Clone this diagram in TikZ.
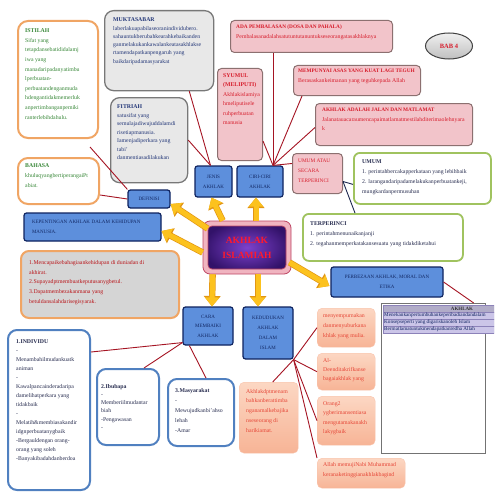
\documentclass[tikz,border=0pt]{standalone}
\usepackage{fontspec}
\setmainfont{Liberation Serif}
\usetikzlibrary{arrows.meta,shapes.geometric,calc}
\definecolor{bfill}{RGB}{93,143,220}
\definecolor{bnavy}{RGB}{14,35,95}
\definecolor{btext}{RGB}{18,40,100}
\definecolor{gold}{RGB}{252,194,30}
\definecolor{goldedge}{RGB}{226,150,20}
\definecolor{lnred}{RGB}{165,20,35}
\definecolor{lnnavy}{RGB}{30,40,80}
\definecolor{pfill}{RGB}{242,196,202}
\definecolor{pborder}{RGB}{140,112,112}
\definecolor{ptext}{RGB}{215,30,45}
\definecolor{gfill}{RGB}{232,232,232}
\definecolor{gborder}{RGB}{120,120,120}
\definecolor{mtext}{RGB}{35,55,120}
\definecolor{oborder}{RGB}{240,165,100}
\definecolor{grtext}{RGB}{55,135,55}
\definecolor{grborder}{RGB}{160,195,95}
\definecolor{dtext}{RGB}{40,45,80}
\definecolor{ibborder}{RGB}{80,128,192}
\definecolor{peachtop}{RGB}{252,215,195}
\definecolor{peachbot}{RGB}{247,180,150}
\definecolor{peachtext}{RGB}{230,70,55}
\definecolor{lav}{RGB}{203,197,232}
\definecolor{lavline}{RGB}{140,130,185}
\definecolor{listred}{RGB}{185,20,25}
\definecolor{cpink}{RGB}{240,180,192}
\definecolor{cpinkd}{RGB}{190,70,100}
\definecolor{cpurin}{RGB}{125,65,205}
\definecolor{cpurout}{RGB}{50,18,105}
\definecolor{ctext}{RGB}{255,25,45}
\newcommand\myfs[2]{\fontsize{#1}{#2}\selectfont}
\begin{document}
\begin{tikzpicture}[x=1pt,y=-1pt,
  bx/.style={anchor=north west, inner sep=0pt},
  txt/.style={anchor=north west, inner sep=0pt, align=left},
  bluebox/.style={draw=bnavy, line width=1.2pt, fill=bfill, rounded corners=2.5pt, text=btext, align=center, inner sep=1pt, font=\myfs{5}{10}},
  greybox/.style={bx, draw=gborder, line width=1.3pt, fill=gfill, rounded corners=9pt},
  pinkbox/.style={bx, draw=pborder, line width=1pt, fill=pfill, rounded corners=4pt},
  orbox/.style={bx, draw=oborder, line width=2pt, fill=white, rounded corners=10pt},
  listbox/.style={bx, draw=oborder, line width=2pt, fill=gfill!92!black, rounded corners=8pt},
  grbox/.style={bx, draw=grborder, line width=1.8pt, fill=white, rounded corners=6pt},
  ibbox/.style={bx, draw=ibborder, line width=2pt, fill=white, rounded corners=9pt},
  peachbox/.style={bx, top color=peachtop, bottom color=peachbot, draw=peachbot!80!white, line width=0.4pt, rounded corners=5pt},
  conn/.style={draw=lnred, line width=0.9pt},
  conn2/.style={draw=lnnavy, line width=0.9pt},
  bigarrow/.style={draw=gold, line width=5pt, -{Triangle[length=9pt,width=14pt]},
     preaction={draw=goldedge, line width=6.4pt, -{Triangle[length=10.4pt,width=16.4pt]}}},
  centerbox/.style={draw=cpinkd, line width=0.8pt, fill=cpink, rounded corners=7pt,
     minimum width=88, minimum height=53, align=center, text=ctext,
     font=\bfseries\myfs{9.5}{15},
     path picture={
       \shade[rounded corners=4pt, inner color=cpurin, outer color=cpurout]
         ([shift={(5pt,-5pt)}]path picture bounding box.north west) rectangle
         ([shift={(-5pt,5pt)}]path picture bounding box.south east);
       \draw[cpinkd, line width=0.7pt, rounded corners=4pt]
         ([shift={(5pt,-5pt)}]path picture bounding box.north west) rectangle
         ([shift={(-5pt,5pt)}]path picture bounding box.south east);}}
]
\useasboundingbox (0,0) rectangle (495,495);
\fill[white] (0,0) rectangle (495,495);

% ---------- top-left boxes
\node[orbox, minimum width=80, minimum height=117] (ist) at (17,20) {};
\node[txt, text=grtext, font=\myfs{5.8}{9.6}] (ist-t) at (25,28.7) {{\bfseries ISTILAH}\\Sifat yang\\tetapdansebatididalamj\\iwa yang\\manadaripadanyatimbu\\lperbuatan-\\perbuatandenganmuda\\hdengantidakmemerluk\\anpertimbanganpemiki\\ranterlebihdahulu.};

\node[orbox, minimum width=81, minimum height=46] (bah) at (17,157) {};
\node[txt, text=grtext, font=\myfs{5.8}{10}] (bah-t) at (25,163.7) {{\bfseries BAHASA}\\khuluqyangbertiperangaiPt\\abiat.};

\node[greybox, minimum width=109, minimum height=80] (muk) at (104,10) {};
\node[txt, text=mtext, font=\myfs{5.8}{8.3}] (muk-t) at (113,17.7) {{\bfseries MUKTASABAR}\\laberlakuapabilaseoranindividubero.\\sahauntukberubahkearahkebaikanden\\ganmelakukankawalankeatasakhlakse\\rtamendapatkanpengaruh yang\\baikdaripadamasyarakat};

\node[greybox, minimum width=77, minimum height=85] (fit) at (110,97) {};
\node[txt, text=mtext, font=\myfs{5.8}{8.5}] (fit-t) at (117,104.7) {{\bfseries FITRIAH}\\satusifat yang\\semulajadiwujuddalamdi\\risetiapmanusia.\\Iamenjadiperkara yang\\tabi'\\danmentiasadilakukan};

% ---------- pink boxes
\node[pinkbox, minimum width=162, minimum height=32] (ada) at (230,20) {};
\node[txt, text=ptext, font=\myfs{5.8}{10}] (ada-t) at (236,25) {{\bfseries\myfs{5.3}{10}ADA PEMBALASAN (DOSA DAN PAHALA)}\\Pembalasanadalahsatutuntutanuntukseseorangatasakhlaknya};

\node[pinkbox, minimum width=45, minimum height=92] (syu) at (217,68) {};
\node[txt, text=ptext, font=\myfs{5.8}{9.5}] (syu-t) at (223,73) {{\bfseries SYUMUL}\\{\bfseries (MELIPUTI)}\\Akhlakislamiya\\hmeliputisele\\ruhperbuatan\\manusia};

\node[pinkbox, minimum width=127, minimum height=30] (mem) at (293,65) {};
\node[txt, text=ptext, font=\myfs{5.8}{10}] (mem-t) at (298,69) {{\bfseries\myfs{5.3}{10}MEMPUNYAI ASAS YANG KUAT LAGI TEGUH}\\Berasaskankeimanan yang teguhkepada Allah};

\node[pinkbox, minimum width=157, minimum height=42] (adl) at (315,103) {};
\node[txt, text=ptext, font=\myfs{5.8}{9.5}] (adl-t) at (322,108) {{\bfseries\myfs{5.3}{9.5}AKHLAK ADALAH JALAN DAN MATLAMAT}\\Jalanatauacaraumencapaimatlamatmestilahditerimaolehnyara\\k};

\node[pinkbox, minimum width=50, minimum height=40] (uat) at (292,153) {};
\node[txt, text=ptext, font=\myfs{5.3}{10}] (uat-t) at (298,159) {UMUM ATAU\\SECARA\\TERPERINCI};

% ---------- green boxes
\node[grbox, minimum width=137, minimum height=51] (umu) at (353,152) {};
\node[txt, text=dtext, font=\myfs{5.8}{9.7}] (umu-t) at (362,160) {{\bfseries UMUM}\\1. perintahbercakapperkataan yang lebihbaik\\2. larangandaripadamelakukanperbuatankeji,\\mungkardanpermusuhan};

\node[grbox, minimum width=160, minimum height=47] (ter) at (302,213) {};
\node[txt, text=dtext, font=\myfs{5.8}{10}] (ter-t) at (310,221) {{\bfseries TERPERINCI}\\1. perintahmenunaikanjanji\\2. tegahanmemperkatakansesuatu yang tidakdiketahui};

% ---------- BAB 4
\node[ellipse, draw=black!75, line width=1pt, top color=gray!12, bottom color=gray!50,
      minimum width=47, minimum height=26, text=ptext, font=\bfseries\myfs{6.5}{8}] (bab) at (449,46) {BAB 4};

% ---------- blue boxes and centre
\node[bluebox, minimum width=37, minimum height=31] (jenis) at (213.5,181.5) {JENIS\\AKHLAK};
\node[bluebox, minimum width=46, minimum height=31] (ciri) at (260,181.5) {CIRI-CIRI\\AKHLAK};
\node[bluebox, minimum width=42, minimum height=18] (def) at (149,199) {DEFINISI};
\node[bluebox, minimum width=137, minimum height=28, text width=121, align=left] (kep) at (92.5,227) {KEPENTINGAN AKHLAK DALAM KEHIDUPAN\\MANUSIA.};
\node[bluebox, minimum width=112, minimum height=30] (per) at (387,282) {PERBEZAAN AKHLAK, MORAL DAN\\ETIKA};
\node[bluebox, minimum width=50, minimum height=38, font=\myfs{5}{9.4}] (cara) at (208,326) {CARA\\MEMBAIKI\\AKHLAK};
\node[bluebox, minimum width=50, minimum height=52] (kd) at (268,333) {KEDUDUKAN\\AKHLAK\\DALAM\\ISLAM};
\node[centerbox] (c) at (247,247.5) {AKHLAK\\ISLAMIAH};

% ---------- red list
\node[listbox, minimum width=158, minimum height=67] (lst) at (20,250) {};
\node[txt, text=listred, font=\myfs{5.8}{9.8}] (lst-t) at (29,260) {1.Mencapaikebahagiaankehidupan di duniadan di\\akhirat.\\2.Supayadptmembuatkeputusanygbetul.\\3.Dapatmembezakanmana yang\\betuldansalahdarisegisyarak.};

% ---------- cara membaiki boxes
\node[ibbox, minimum width=82, minimum height=160] (ind) at (7,329) {};
\node[txt, text=dtext, font=\myfs{5.8}{9}] (ind-t) at (16,339) {{\bfseries 1.INDIVIDU}\\-\\Menambahilmudankuatk\\animan\\-\\Kawalpancainderadaripa\\damelihatperkara yang\\tidakbaik\\-\\Melatih\&membiasakandir\\idgnperbuatanygbaik\\-Bergauldengan orang-\\orang yang soleh\\-Banyakibadahdanberdoa};

\node[ibbox, minimum width=62, minimum height=76] (ibu) at (96,368) {};
\node[txt, text=dtext, font=\myfs{5.8}{8.2}] (ibu-t) at (101,384) {{\bfseries 2.Ibubapa}\\-\\Memberiilmudantar\\biah\\-Pengawasan\\-};

\node[ibbox, minimum width=66, minimum height=67] (mas) at (167,378) {};
\node[txt, text=dtext, font=\myfs{5.8}{10}] (mas-t) at (175,388) {{\bfseries 3.Masyarakat}\\-\\Mewujudkanbi'ahso\\lehah\\-Amar};

% ---------- kedudukan boxes
\node[peachbox, minimum width=59, minimum height=71] (pe) at (239,382) {};
\node[txt, text=peachtext, font=\myfs{5.8}{9.7}] (pe-t) at (246,389) {Akhlakdptmenam\\bahkanberattimba\\nganamalkebajika\\nseseorang di\\harikiamat.};

\node[peachbox, minimum width=58, minimum height=39] (pa) at (317,308) {};
\node[txt, text=peachtext, font=\myfs{5.8}{10}] (pa-t) at (323,313) {menyempurnakan\\danmenyuburkana\\khlak yang mulia.};

\node[peachbox, minimum width=58, minimum height=37] (pb) at (317,353) {};
\node[txt, text=peachtext, font=\myfs{5.8}{9}] (pb-t) at (323,358) {Al-\\Deenditakrifkanse\\bagaiakhlak yang};

\node[peachbox, minimum width=58, minimum height=49] (pc) at (317,396) {};
\node[txt, text=peachtext, font=\myfs{5.8}{9.6}] (pc-t) at (323,401) {Orang2\\ygberimansentiasa\\mengutamakanakh\\lakygbaik};

\node[peachbox, minimum width=88, minimum height=30] (pd) at (317,458) {};
\node[txt, text=peachtext, font=\myfs{5.8}{10}] (pd-t) at (323,462) {Allah memujiNabi Muhammad\\keranaketinggianakhlakbagind};

% ---------- table
\node[bx, draw=black!55, line width=0.7pt, fill=white, minimum width=104, minimum height=150] (tab) at (381,303) {};
\begin{scope}
\clip (381,300) rectangle (494,340);
\filldraw[fill=lav!85!black!95, draw=lavline, line width=0.4pt] (383,305) rectangle (494,312);
\filldraw[fill=lav, draw=lavline, line width=0.4pt] (383,312) rectangle (494,319);
\filldraw[fill=lav, draw=lavline, line width=0.4pt] (383,319) rectangle (494,326);
\filldraw[fill=lav, draw=lavline, line width=0.4pt] (383,326) rectangle (494,333);
\node[inner sep=0pt, text=black!80, font=\bfseries\myfs{5}{6}] (tab-h) at (462,308.7) {AKHLAK};
\node[anchor=west, inner sep=0pt, text=bnavy, font=\myfs{5.2}{6}] (tab-1) at (384,315.5) {Menekankanpertumbuhankeperibadiandandalam};
\node[anchor=west, inner sep=0pt, text=bnavy, font=\myfs{5.2}{6}] (tab-2) at (384,322.5) {Konsepseperti yang digariskanoleh Islam};
\node[anchor=west, inner sep=0pt, text=bnavy, font=\myfs{5.2}{6}] (tab-3) at (384,329.5) {Bermatlamatuntukmendapatkanredha Allah};
\end{scope}

% ---------- connectors
\draw[conn] ($(ist.south east)+(-9,8)$) -- (def.north west);
\draw[conn] ($(bah.south east)+(0,-10)$) -- (def.west);
\coordinate (jtop) at ($(jenis.north)+(-3,0)$);
\draw[conn] (jtop) -- ($(muk.south east)+(-25,0)$);
\draw[conn] (jtop) -- (fit.east);
\coordinate (ctop) at ($(ciri.north)+(13,0)$);
\draw[conn] (ctop) -- ($(ada.south west)+(43,0)$);
\draw[conn] (ctop) -- ($(syu.south east)+(0,-20)$);
\draw[conn] (ctop) -- ($(mem.south west)+(9,0)$);
\draw[conn] (ctop) -- ($(adl.west)+(0,3)$);
\draw[conn] (ctop) -- ($(uat.west)+(0,-10)$);
\draw[conn2] ($(uat.east)+(0,8)$) -- ($(ter.north west)+(53,0)$);
\draw[conn2] ($(uat.east)+(0,8)$) -- ($(umu.west)+(0,6)$);
\draw[conn] (per.east) -- ($(tab.north east)+(-12,0)$);
\coordinate (cbot) at ($(cara.south west)+(0,-3)$);
\draw[conn] (cbot) -- ($(ind.north east)+(0,23)$);
\draw[conn] (cbot) -- ($(ibu.north)+(16,0)$);
\draw[conn] ($(cara.south west)+(7,0)$) -- ($(mas.north)+(5,0)$);
\coordinate (kbot) at (kd.south east);
\draw[conn] (kbot) -- (pa.west);
\draw[conn] (kbot) -- (pb.west);
\draw[conn] (kbot) -- (pc.west);
\draw[conn] (kbot) -- (pd.north west);
\draw[conn] (kbot) -- ($(pe.north)+(4,0)$);

% ---------- big arrows
\draw[bigarrow] ($(c.north west)+(5,8)$) -- ($(def.east)+(0,5)$);
\draw[bigarrow] ($(c.west)+(0,5)$) -- ($(kep.east)+(0,4)$);
\draw[bigarrow] ($(c.north west)+(20,0)$) -- ($(jenis.south)+(-2,0)$);
\draw[bigarrow] ($(c.north)+(9,0)$) -- ($(ciri.south)+(-4,0)$);
\draw[bigarrow] ($(c.south east)+(-2,-12)$) -- ($(per.west)+(-1,4)$);
\draw[bigarrow] ($(c.south west)+(10,0)$) -- ($(cara.north)+(4,0)$);
\draw[bigarrow] ($(c.south)+(11,0)$) -- ($(kd.north)+(-10,0)$);
\end{tikzpicture}
\end{document}
